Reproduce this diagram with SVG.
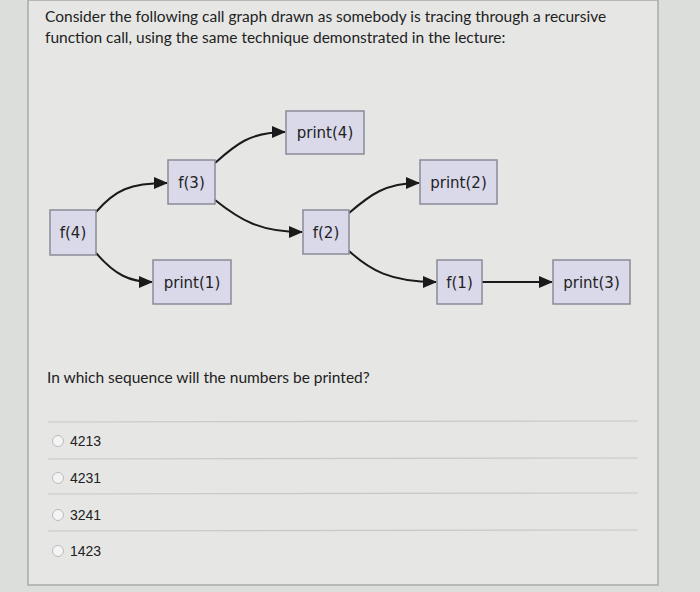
<svg xmlns="http://www.w3.org/2000/svg" width="700" height="592" viewBox="0 0 700 592">
<style>
.n{fill:#d9d9ea;stroke:#8a8a98;stroke-width:1.5}
.t{font-family:"DejaVu Sans","Liberation Sans",sans-serif;font-size:15px;fill:#222;text-anchor:middle}
.q{font-family:Lato,"Liberation Sans",sans-serif;font-size:15.5px;fill:#222}
.o{font-family:"Liberation Sans",sans-serif;font-size:14px;fill:#222}
.e{fill:none;stroke:#1a1a1a;stroke-width:2}
.sep{stroke:#c8c8c8;stroke-width:1.2}
.r{fill:#f4f4f4;stroke:#bbb;stroke-width:1}
</style>
<defs><marker id="a" markerWidth="14" markerHeight="12" refX="13" refY="6" orient="auto" markerUnits="userSpaceOnUse"><path d="M0,0 L14,6 L0,12 z" fill="#1a1a1a"/></marker></defs>
<rect width="700" height="592" fill="#dcdedc"/>
<rect x="28" y="0" width="630" height="585" fill="#e6e7e5" stroke="#a9aaa8" stroke-width="1.5"/>
<text class="q" x="45" y="22">Consider the following call graph drawn as somebody is tracing through a recursive</text>
<text class="q" x="45" y="43">function call, using the same technique demonstrated in the lecture:</text>
<g id="edges">
<path class="e" d="M96,212 C115,190 130,183 167,183" marker-end="url(#a)"/>
<path class="e" d="M96,253 C115,275 130,282 152,282" marker-end="url(#a)"/>
<path class="e" d="M215,163 C235,145 250,132 285,132" marker-end="url(#a)"/>
<path class="e" d="M215,200 C240,220 260,232 302,232" marker-end="url(#a)"/>
<path class="e" d="M349,213 C370,195 385,183 419,183" marker-end="url(#a)"/>
<path class="e" d="M349,251 C370,270 390,282 436,282" marker-end="url(#a)"/>
<path class="e" d="M482,282 L552,282" marker-end="url(#a)"/>
</g>
<g id="f4"><rect class="n" x="50" y="210" width="46" height="45"/><text class="t" x="73" y="238">f(4)</text></g>
<g id="f3"><rect class="n" x="168" y="160" width="47" height="44"/><text class="t" x="191.5" y="188">f(3)</text></g>
<g id="print4"><rect class="n" x="286" y="111" width="78" height="43"/><text class="t" x="325" y="138">print(4)</text></g>
<g id="f2"><rect class="n" x="303" y="210" width="46" height="44"/><text class="t" x="326" y="238">f(2)</text></g>
<g id="print1"><rect class="n" x="153" y="260" width="78" height="44"/><text class="t" x="192" y="288">print(1)</text></g>
<g id="print2"><rect class="n" x="420" y="160" width="77" height="44"/><text class="t" x="458.5" y="188">print(2)</text></g>
<g id="f1"><rect class="n" x="437" y="260" width="45" height="44"/><text class="t" x="459.5" y="288">f(1)</text></g>
<g id="print3"><rect class="n" x="553" y="260" width="77" height="44"/><text class="t" x="591.5" y="288">print(3)</text></g>
<text class="q" x="47" y="383">In which sequence will the numbers be printed?</text>
<line class="sep" x1="48" y1="422" x2="638" y2="421"/>
<line class="sep" x1="48" y1="459" x2="638" y2="458"/>
<line class="sep" x1="48" y1="494" x2="638" y2="493"/>
<line class="sep" x1="48" y1="531" x2="638" y2="530"/>
<circle class="r" cx="58" cy="441" r="5.5"/><text class="o" x="70" y="446">4213</text>
<circle class="r" cx="58" cy="478" r="5.5"/><text class="o" x="70" y="483">4231</text>
<circle class="r" cx="58" cy="515" r="5.5"/><text class="o" x="70" y="520">3241</text>
<circle class="r" cx="58" cy="551" r="5.5"/><text class="o" x="70" y="556">1423</text>
</svg>
